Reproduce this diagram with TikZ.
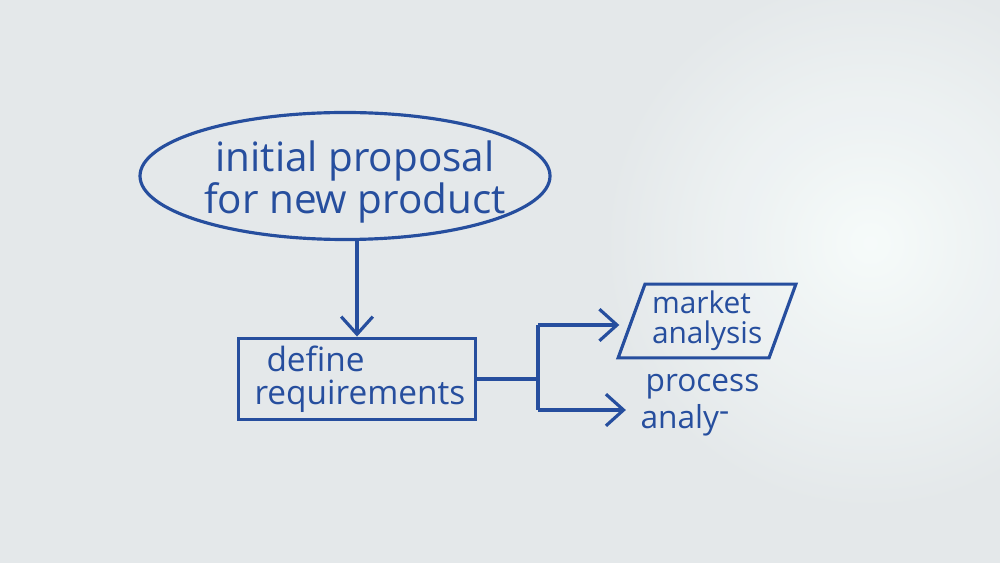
\documentclass[tikz,border=0pt]{standalone}
\usepackage{fontspec}
\setmainfont{Open Sans}
\usetikzlibrary{arrows.meta,shapes.geometric}
\definecolor{marker}{RGB}{38, 78, 158}
\definecolor{board}{RGB}{228, 232, 234}
\definecolor{glow}{RGB}{248, 253, 252}

\tikzset{
    ink/.style    = {draw=marker, line width=0.9pt},
    scribble/.style = {text=marker, align=left, inner sep=2pt},
    flow/.style   = {ink, -{Straight Barb[length=5pt, width=9pt]}}
}

\begin{document}
\begin{tikzpicture}
            % Whiteboard
            \useasboundingbox                                                 (0.00, 0.00) rectangle (10.00, 5.63);
            \fill[board]                                                      (0.00, 0.00) rectangle (10.00, 5.63);
            \shade[inner color=glow, outer color=board, opacity=0.9]          (8.70, 3.20) circle (2.80);
            % Start
            \node[ink, ellipse, minimum width=4.10cm, minimum height=1.27cm]  (proposal) at (3.45, 3.87) {};
            \node[scribble, align=center, inner sep=0pt,
                  font=\fontsize{11.5}{12}\selectfont]                        (idea)     at (3.55, 3.81)
                 {initial proposal\\for new product};
            % Step
            \node[ink, line width=1.1pt, rectangle, minimum width=2.37cm, minimum height=0.77cm,
                  scribble, inner xsep=0.13cm, text width=2.05cm,
                  font=\fontsize{9.5}{9.5}\selectfont]                        (req)      at (3.57, 1.84)
                 {\hspace*{0.12cm}define\\requirements};
            % Outputs
            \node[ink, trapezium, trapezium left angle=70, trapezium right angle=110,
                  minimum height=0.62cm, inner xsep=1pt, inner ysep=0pt, text width=1.1cm, scribble,
                  font=\fontsize{8.5}{8.5}\selectfont]                        (market)   at (7.07, 2.42)
                 {market\\analysis};
            \node[scribble, inner sep=1pt, font=\fontsize{9}{10.5}\selectfont] (process)  at (7.00, 1.58)
                 {\hspace*{0.05cm}process\\analy\raisebox{0.4ex}{-}};
            % Connectors
            \coordinate (forktop) at (5.38, 2.38);
            \coordinate (forkbot) at (5.38, 1.53);
            \draw[flow]                                                       (proposal.south -| req.north) -- (req.north);
            \draw[ink]                                                        (req.east) -- (req.east -| forktop);
            \draw[ink]                                                        (forktop) -- (forkbot);
            \draw[flow, shorten >=3pt]                                        (forktop) -- (forktop -| market.west);
            \draw[flow, shorten >=3pt]                                        (forkbot) -- (forkbot -| process.west);
        \end{tikzpicture}
\end{document}
